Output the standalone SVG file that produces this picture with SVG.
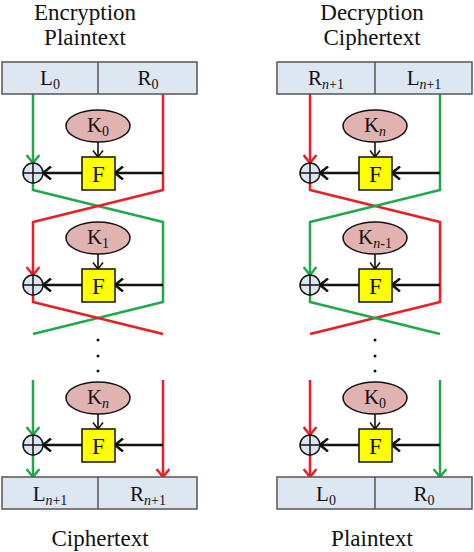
<svg xmlns="http://www.w3.org/2000/svg" width="474" height="552" viewBox="0 0 474 552">
<defs>
<style>
.t{font-family:"Liberation Serif","Times New Roman",serif;fill:#111;}
.title{font-size:23px;text-anchor:middle;}
.lab{font-size:21px;text-anchor:middle;}
.fl{font-size:23px;text-anchor:middle;}
.sub{font-size:14px;}
.box{fill:#dde7f2;stroke:#555;stroke-width:1.5;}
.key{fill:#e0b3b0;stroke:#111;stroke-width:1.5;}
.f{fill:#ffff00;stroke:#111;stroke-width:1.5;}
.xor{fill:#dde7f2;stroke:#111;stroke-width:1.5;}
.cross{stroke:#111;stroke-width:1.5;fill:none;}
.g{stroke:#20a84a;stroke-width:2.5;fill:none;}
.r{stroke:#ec1c24;stroke-width:2.5;fill:none;}
.k{stroke:#111;stroke-width:2.5;fill:none;}
.kt{stroke:#111;stroke-width:1.6;fill:none;}
.dot{fill:#111;}
</style>
<marker id="aG" markerUnits="userSpaceOnUse" markerWidth="14" markerHeight="14" viewBox="0 0 14 14" refX="12" refY="7" orient="auto"><path d="M4,0.5 L12,7 L4,13.5" fill="none" stroke="#20a84a" stroke-width="2.5"/></marker>
<marker id="aR" markerUnits="userSpaceOnUse" markerWidth="14" markerHeight="14" viewBox="0 0 14 14" refX="12" refY="7" orient="auto"><path d="M4,0.5 L12,7 L4,13.5" fill="none" stroke="#ec1c24" stroke-width="2.5"/></marker>
<marker id="aK" markerUnits="userSpaceOnUse" markerWidth="14" markerHeight="14" viewBox="0 0 14 14" refX="12" refY="7" orient="auto"><path d="M4,0.5 L12,7 L4,13.5" fill="none" stroke="#111" stroke-width="2.5"/></marker>
<marker id="aKs" markerUnits="userSpaceOnUse" markerWidth="12" markerHeight="12" viewBox="0 0 12 12" refX="10" refY="6" orient="auto"><path d="M3.5,1 L10,6 L3.5,11" fill="none" stroke="#111" stroke-width="1.6"/></marker>
</defs>
<rect width="474" height="552" fill="#fff"/>

<g id="titles">
<text class="t title" x="85" y="20">Encryption</text>
<text class="t title" x="85" y="45">Plaintext</text>
<text class="t title" x="372" y="20">Decryption</text>
<text class="t title" x="372" y="45">Ciphertext</text>
<text class="t title" x="100" y="546">Ciphertext</text>
<text class="t title" x="372" y="546">Plaintext</text>
</g>

<g id="connectors">
<path class="g" d="M33,93 V163" marker-end="url(#aG)"/>
<path class="g" d="M33,163 V190 L163,222 V302 L33,334"/>
<path class="r" d="M163,93 V190 L33,222 V275" marker-end="url(#aR)"/>
<path class="r" d="M33,275 V302 L163,334"/>
<path class="k" d="M163,173 H115" marker-end="url(#aK)"/>
<path class="k" d="M82,173 H43" marker-end="url(#aK)"/>
<path class="kt" d="M98,142 V157" marker-end="url(#aKs)"/>
<path class="k" d="M163,285 H115" marker-end="url(#aK)"/>
<path class="k" d="M82,285 H43" marker-end="url(#aK)"/>
<path class="kt" d="M98,254 V269" marker-end="url(#aKs)"/>
<path class="g" d="M33,380 V435" marker-end="url(#aG)"/>
<path class="g" d="M33,435 V477" marker-end="url(#aG)"/>
<path class="r" d="M163,380 V477" marker-end="url(#aR)"/>
<path class="k" d="M163,445 H115" marker-end="url(#aK)"/>
<path class="k" d="M82,445 H43" marker-end="url(#aK)"/>
<path class="kt" d="M98,414 V429" marker-end="url(#aKs)"/>
<path class="r" d="M310,93 V163" marker-end="url(#aR)"/>
<path class="r" d="M310,163 V190 L440,222 V302 L310,334"/>
<path class="g" d="M440,93 V190 L310,222 V275" marker-end="url(#aG)"/>
<path class="g" d="M310,275 V302 L440,334"/>
<path class="k" d="M440,173 H392" marker-end="url(#aK)"/>
<path class="k" d="M359,173 H320" marker-end="url(#aK)"/>
<path class="kt" d="M375,142 V157" marker-end="url(#aKs)"/>
<path class="k" d="M440,285 H392" marker-end="url(#aK)"/>
<path class="k" d="M359,285 H320" marker-end="url(#aK)"/>
<path class="kt" d="M375,254 V269" marker-end="url(#aKs)"/>
<path class="r" d="M310,380 V435" marker-end="url(#aR)"/>
<path class="r" d="M310,435 V477" marker-end="url(#aR)"/>
<path class="g" d="M440,380 V477" marker-end="url(#aG)"/>
<path class="k" d="M440,445 H392" marker-end="url(#aK)"/>
<path class="k" d="M359,445 H320" marker-end="url(#aK)"/>
<path class="kt" d="M375,414 V429" marker-end="url(#aKs)"/>
</g>

<g id="enc-input">
<rect class="box" x="2" y="62" width="195" height="32"/>
<line x1="98" y1="62" x2="98" y2="94" stroke="#555" stroke-width="1.5"/>
<text class="t lab" x="50" y="85">L<tspan class="sub" dy="4">0</tspan></text>
<text class="t lab" x="148" y="85">R<tspan class="sub" dy="4">0</tspan></text>
</g>
<g id="enc-k0"><ellipse class="key" cx="98" cy="126" rx="32" ry="16"/><text class="t lab" x="98" y="132">K<tspan class="sub" dy="4">0</tspan></text></g>
<g id="enc-f1"><rect class="f" x="82" y="157" width="33" height="33"/><text class="t fl" x="98.5" y="181.5">F</text></g>
<g id="enc-x1"><circle class="xor" cx="33" cy="173" r="10"/><path class="cross" d="M23,173 H43 M33,163 V183"/></g>
<g id="enc-k1"><ellipse class="key" cx="98" cy="238" rx="32" ry="16"/><text class="t lab" x="98" y="244">K<tspan class="sub" dy="4">1</tspan></text></g>
<g id="enc-f2"><rect class="f" x="82" y="269" width="33" height="33"/><text class="t fl" x="98.5" y="293.5">F</text></g>
<g id="enc-x2"><circle class="xor" cx="33" cy="285" r="10"/><path class="cross" d="M23,285 H43 M33,275 V295"/></g>
<g id="enc-dots"><circle class="dot" cx="98" cy="340" r="1.5"/><circle class="dot" cx="98" cy="356" r="1.5"/><circle class="dot" cx="98" cy="371" r="1.5"/></g>
<g id="enc-kn"><ellipse class="key" cx="98" cy="398" rx="32" ry="16"/><text class="t lab" x="98" y="404">K<tspan class="sub" dy="4" font-style="italic">n</tspan></text></g>
<g id="enc-f3"><rect class="f" x="82" y="429" width="33" height="33"/><text class="t fl" x="98.5" y="453.5">F</text></g>
<g id="enc-x3"><circle class="xor" cx="33" cy="445" r="10"/><path class="cross" d="M23,445 H43 M33,435 V455"/></g>
<g id="enc-output">
<rect class="box" x="2" y="477" width="195" height="32"/>
<line x1="98" y1="477" x2="98" y2="509" stroke="#555" stroke-width="1.5"/>
<text class="t lab" x="50" y="501">L<tspan class="sub" dy="4" font-style="italic">n</tspan><tspan class="sub">+1</tspan></text>
<text class="t lab" x="148" y="501">R<tspan class="sub" dy="4" font-style="italic">n</tspan><tspan class="sub">+1</tspan></text>
</g>

<g id="dec-input">
<rect class="box" x="277" y="62" width="195" height="32"/>
<line x1="375" y1="62" x2="375" y2="94" stroke="#555" stroke-width="1.5"/>
<text class="t lab" x="326" y="85">R<tspan class="sub" dy="4" font-style="italic">n</tspan><tspan class="sub">+1</tspan></text>
<text class="t lab" x="424" y="85">L<tspan class="sub" dy="4" font-style="italic">n</tspan><tspan class="sub">+1</tspan></text>
</g>
<g id="dec-kn"><ellipse class="key" cx="375" cy="126" rx="32" ry="16"/><text class="t lab" x="375" y="132">K<tspan class="sub" dy="4" font-style="italic">n</tspan></text></g>
<g id="dec-f1"><rect class="f" x="359" y="157" width="33" height="33"/><text class="t fl" x="375.5" y="181.5">F</text></g>
<g id="dec-x1"><circle class="xor" cx="310" cy="173" r="10"/><path class="cross" d="M300,173 H320 M310,163 V183"/></g>
<g id="dec-kn1"><ellipse class="key" cx="375" cy="238" rx="32" ry="16"/><text class="t lab" x="375" y="244">K<tspan class="sub" dy="4" font-style="italic">n</tspan><tspan class="sub">-1</tspan></text></g>
<g id="dec-f2"><rect class="f" x="359" y="269" width="33" height="33"/><text class="t fl" x="375.5" y="293.5">F</text></g>
<g id="dec-x2"><circle class="xor" cx="310" cy="285" r="10"/><path class="cross" d="M300,285 H320 M310,275 V295"/></g>
<g id="dec-dots"><circle class="dot" cx="375" cy="340" r="1.5"/><circle class="dot" cx="375" cy="356" r="1.5"/><circle class="dot" cx="375" cy="371" r="1.5"/></g>
<g id="dec-k0"><ellipse class="key" cx="375" cy="398" rx="32" ry="16"/><text class="t lab" x="375" y="404">K<tspan class="sub" dy="4">0</tspan></text></g>
<g id="dec-f3"><rect class="f" x="359" y="429" width="33" height="33"/><text class="t fl" x="375.5" y="453.5">F</text></g>
<g id="dec-x3"><circle class="xor" cx="310" cy="445" r="10"/><path class="cross" d="M300,445 H320 M310,435 V455"/></g>
<g id="dec-output">
<rect class="box" x="277" y="477" width="195" height="32"/>
<line x1="375" y1="477" x2="375" y2="509" stroke="#555" stroke-width="1.5"/>
<text class="t lab" x="326" y="501">L<tspan class="sub" dy="4">0</tspan></text>
<text class="t lab" x="424" y="501">R<tspan class="sub" dy="4">0</tspan></text>
</g>
</svg>
